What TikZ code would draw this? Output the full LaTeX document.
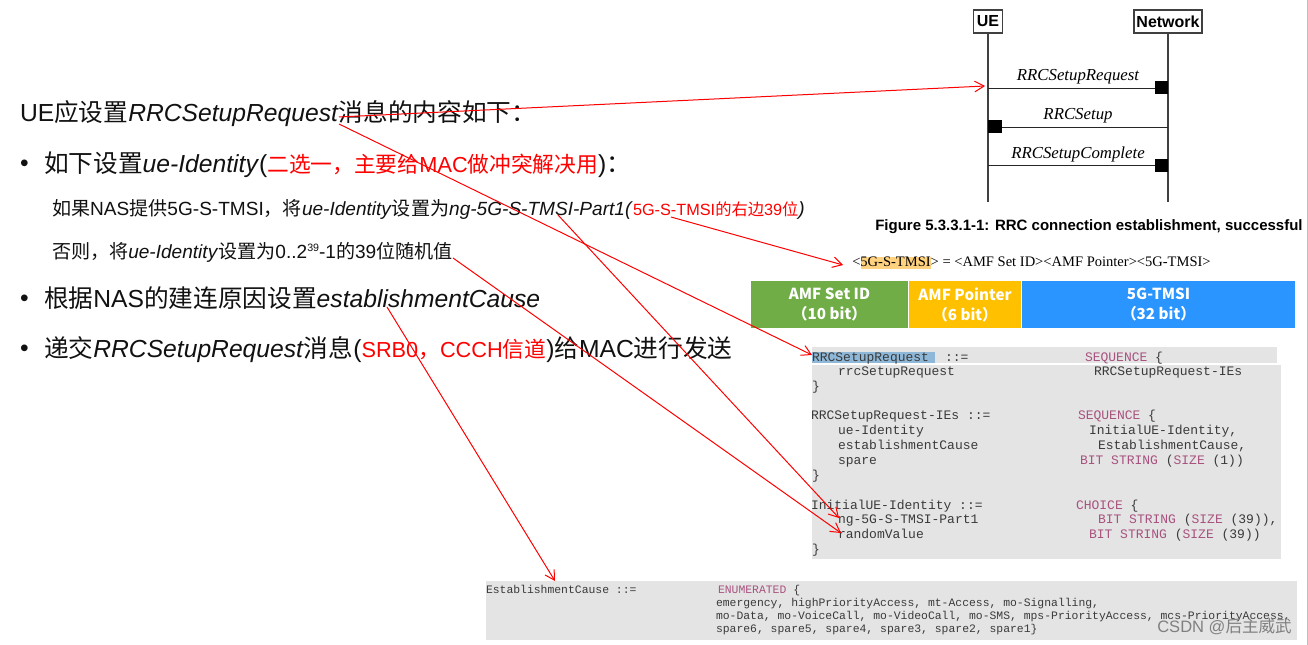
\documentclass[tikz,border=0pt]{standalone}
\usepackage{fontspec}
\setmainfont{Liberation Sans}
\newfontfamily\cjk{Noto Sans CJK SC}
\newfontfamily\tnr{Liberation Serif}
\newfontfamily\cou{Liberation Mono}
\usetikzlibrary{arrows.meta}
\newcommand{\zh}[1]{{\cjk #1}}
\newcommand{\kw}[1]{\textcolor{kwcol}{#1}}
\definecolor{kwcol}{HTML}{A8527F}
\definecolor{codetxt}{HTML}{3A3A3A}
\definecolor{codebg}{HTML}{E4E4E4}
\definecolor{barG}{HTML}{70AD47}
\definecolor{barY}{HTML}{FFC000}
\definecolor{barB}{HTML}{2A94FF}
\definecolor{hlY}{HTML}{FFD27F}
\definecolor{hlB}{HTML}{8FB8D8}
\definecolor{txt}{HTML}{111111}
\tikzset{
  x=0.75pt,y=-0.75pt,
  lft/.style={anchor=base west,inner sep=0pt,outer sep=0pt,text=txt},
  bigt/.style={lft,font=\fontsize{18.5}{18}\selectfont},
  subt/.style={lft,font=\fontsize{14.3}{14}\selectfont},
  code/.style={lft,text=codetxt,font=\cou\fontsize{9.75}{10}\selectfont},
  codeb/.style={lft,text=codetxt,font=\cou\fontsize{8.55}{9}\selectfont},
  bar/.style={draw=none,inner sep=0pt,text=white,align=center,font=\cjk\bfseries\fontsize{11.4}{15}\selectfont},
  lifebox/.style={draw=black!75,line width=0.9pt,fill=white,inner sep=0pt,font=\bfseries\fontsize{12}{12}\selectfont},
  lifeline/.style={draw=black!75,line width=0.9pt},
  msg/.style={draw=black!85,line width=0.7pt},
  msgl/.style={inner sep=0pt,anchor=base,font=\tnr\itshape\fontsize{12.6}{13}\selectfont},
  redarrow/.style={draw=red,line width=0.75pt,-{Straight Barb[length=7pt,width=8pt,line width=0.75pt]}},
}
\newcommand{\redbig}{\fontsize{16.3}{16}\selectfont}
\begin{document}
\begin{tikzpicture}
\useasboundingbox (0,0) rectangle (1308,645);
\fill[white] (0,0) rectangle (1308,645);
\draw[black!25,line width=0.75pt] (1307,0) -- (1307,645);

% left text
\node[bigt] (t1) at (20,122) {UE\zh{应设置}\textit{RRCSetupRequest}\zh{消息的内容如下：}};
\node[bigt] (b1) at (20,172) {\textbullet};
\node[bigt] (t2) at (44,173) {\zh{如下设置}\textit{ue-Identity}(\textcolor{red}{\redbig\zh{二选一，主要给}MAC\zh{做冲突解决用}})\zh{：}};
\node[subt] (t3) at (52,215) {\zh{如果}NAS\zh{提供}5G-S-TMSI\zh{，将}\textit{ue-Identity}\zh{设置为}\textit{ng-5G-S-TMSI-Part1(}\textcolor{red}{\fontsize{12.2}{12}\selectfont 5G-S-TMSI\zh{的右边}39\zh{位}}\textit{)}};
\node[subt] (t4) at (52,258) {\zh{否则，将}\textit{ue-Identity}\zh{设置为}0..2\raisebox{0.6ex}{\fontsize{8}{8}\selectfont 39}-1\zh{的}39\zh{位随机值}};
\node[bigt] (b2) at (20,306) {\textbullet};
\node[bigt] (t5) at (44,307) {\zh{根据}NAS\zh{的建连原因设置}\textit{establishmentCause}};
\node[bigt] (b3) at (20,356) {\textbullet};
\node[bigt] (t6) at (44,357.5) {\zh{递交}\textit{RRCSetupRequest}\zh{消息}(\textcolor{red}{\redbig SRB0\zh{，}CCCH\zh{信道}})\zh{给}MAC\zh{进行发送}};

% sequence chart
\node[lifebox,minimum width=21.4pt,minimum height=17.2pt] (ue) at (988,21.5) {UE};
\node[lifebox,minimum width=51pt,minimum height=17.2pt] (nw) at (1168,21.5) {Network};
\coordinate (uee) at (988,202);
\coordinate (nwe) at (1168,202);
\draw[lifeline] (ue) -- (uee);
\draw[lifeline] (nw) -- (nwe);
\coordinate (m1a) at (988,88); \coordinate (m1b) at (1168,88);
\coordinate (m2a) at (988,127); \coordinate (m2b) at (1168,127);
\coordinate (m3a) at (988,165); \coordinate (m3b) at (1168,165);
\draw[msg] (m1a) -- (m1b);
\draw[msg] (m2a) -- (m2b);
\draw[msg] (m3a) -- (m3b);
\fill[black] (1154.5,81) rectangle (1168,94.5);
\fill[black] (988,120) rectangle (1001.5,133.5);
\fill[black] (1154.5,159) rectangle (1168,172.5);
\node[msgl] (l1) at (1078,81) {RRCSetupRequest};
\node[msgl] (l2) at (1078,120) {RRCSetup};
\node[msgl] (l3) at (1078,159) {RRCSetupComplete};
\node[inner sep=0pt,anchor=base west,font=\bfseries\fontsize{11.25}{11}\selectfont] (cap) at (875,230) {Figure 5.3.3.1-1: RRC connection establishment, successful};

% TMSI formula
\fill[hlY] (861,256.5) rectangle (931,268.5);
\node[inner sep=0pt,anchor=base west,font=\tnr\fontsize{10.9}{11}\selectfont] (tm) at (852,266) {<5G-S-TMSI> = <AMF Set ID><AMF Pointer><5G-TMSI>};

% bars
\node[bar,fill=barG,minimum width=117.75pt,minimum height=35.25pt] (bg) at (829.5,304.5) {\raisebox{-2pt}{AMF Set ID}\\\raisebox{-2pt}{（10 bit）}};
\node[bar,fill=barY,minimum width=84pt,minimum height=35.25pt] (by) at (965,304.5) {\raisebox{-2pt}{AMF Pointer}\\\raisebox{-2pt}{（6 bit）}};
\node[bar,fill=barB,minimum width=204.75pt,minimum height=35.25pt] (bb) at (1158.5,304.5) {\raisebox{-2pt}{5G-TMSI}\\\raisebox{-2pt}{（32 bit）}};

% code block
\fill[codebg] (812,347) rectangle (1277,363);
\fill[codebg] (812,364.5) rectangle (1281,559);
\fill[hlB] (812,352) rectangle (935,363);
\node[code] (c1a) at (812,361) {RRCSetupRequest};
\node[code] (c1b) at (945,361) {::=};
\node[code] (c1c) at (1085,361) {\kw{SEQUENCE} \{};
\node[code] (c2a) at (838,375) {rrcSetupRequest};
\node[code] (c2b) at (1094,375) {RRCSetupRequest-IEs};
\node[code] (c3) at (812,390) {\}};
\node[code] (c4a) at (811,419) {RRCSetupRequest-IEs ::=};
\node[code] (c4b) at (1078,419) {\kw{SEQUENCE} \{};
\node[code] (c5a) at (838,434) {ue-Identity};
\node[code] (c5b) at (1089,434) {InitialUE-Identity,};
\node[code] (c6a) at (838,449) {establishmentCause};
\node[code] (c6b) at (1098,449) {EstablishmentCause,};
\node[code] (c7a) at (838,464) {spare};
\node[code] (c7b) at (1080,464) {\kw{BIT STRING} (\kw{SIZE} (1))};
\node[code] (c8) at (812,479) {\}};
\node[code] (c9a) at (811,509) {InitialUE-Identity ::=};
\node[code] (c9b) at (1076,509) {\kw{CHOICE} \{};
\node[code] (c10a) at (838,523) {ng-5G-S-TMSI-Part1};
\node[code] (c10b) at (1098,523) {\kw{BIT STRING} (\kw{SIZE} (39)),};
\node[code] (c11a) at (838,538) {randomValue};
\node[code] (c11b) at (1089,538) {\kw{BIT STRING} (\kw{SIZE} (39))};
\node[code] (c12) at (812,553) {\}};

% enumeration block
\fill[codebg] (486,581) rectangle (1297,640);
\node[codeb] (e1a) at (486,593) {EstablishmentCause ::=};
\node[codeb] (e1b) at (718,593) {\kw{ENUMERATED} \{};
\node[codeb] (e2) at (716,606) {emergency, highPriorityAccess, mt-Access, mo-Signalling,};
\node[codeb] (e3) at (716,619) {mo-Data, mo-VoiceCall, mo-VideoCall, mo-SMS, mps-PriorityAccess, mcs-PriorityAccess,};
\node[codeb] (e4) at (716,632) {spare6, spare5, spare4, spare3, spare2, spare1\}};

% watermark
\node[inner sep=0pt,anchor=base west,text=black!50,font=\fontsize{12.4}{12}\selectfont] (wm) at (1157,632) {CSDN @\zh{后主威武}};

% red arrows
\coordinate (a1s) at (339,117); \coordinate (a1e) at (985,86);
\coordinate (a2s) at (339,124); \coordinate (a2e) at (812,355);
\coordinate (a3s) at (558,215); \coordinate (a3e) at (839,518);
\coordinate (a4s) at (453,258); \coordinate (a4e) at (841,533);
\coordinate (a5s) at (671,217); \coordinate (a5e) at (843,265);
\coordinate (a6s) at (387,307); \coordinate (a6e) at (555,581);
\draw[redarrow] (a1s) -- (a1e);
\draw[redarrow] (a2s) -- (a2e);
\draw[redarrow] (a3s) -- (a3e);
\draw[redarrow] (a4s) -- (a4e);
\draw[redarrow] (a5s) -- (a5e);
\draw[redarrow] (a6s) -- (a6e);
\end{tikzpicture}
\end{document}
